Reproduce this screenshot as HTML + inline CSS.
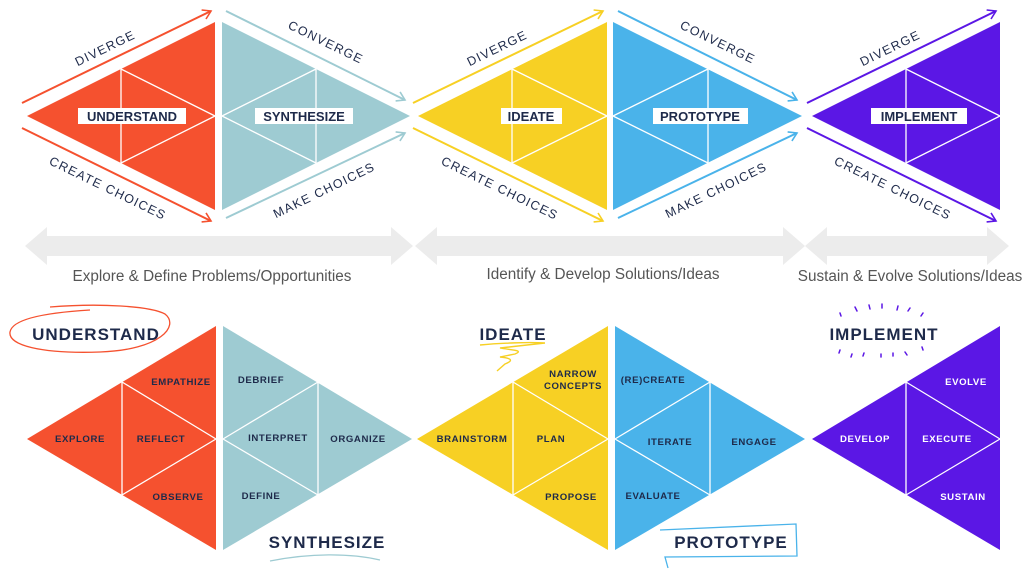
<!DOCTYPE html>
<html><head><meta charset="utf-8"><style>
html,body{margin:0;padding:0;background:#fff;}
svg{display:block;}
.t{font-family:"Liberation Sans",sans-serif;fill:#1e2a4a;}
.a{font-size:12.5px;letter-spacing:1.3px;}
.b{font-size:13px;font-weight:bold;}
.s{font-size:9.6px;font-weight:bold;letter-spacing:0.6px;}
.h{font-size:17px;font-weight:bold;letter-spacing:1px;}
.g{font-family:"Liberation Sans",sans-serif;fill:#555;font-size:15.3px;}
</style></head><body>
<svg width="1030" height="570" viewBox="0 0 1030 570" xmlns="http://www.w3.org/2000/svg">
<defs>
<marker id="mr" markerWidth="12" markerHeight="12" refX="9" refY="6" orient="auto" markerUnits="userSpaceOnUse"><path d="M1,1 L9,6 L1,11" fill="none" stroke="#f5512f" stroke-width="1.6"/></marker>
<marker id="mt" markerWidth="12" markerHeight="12" refX="9" refY="6" orient="auto" markerUnits="userSpaceOnUse"><path d="M1,1 L9,6 L1,11" fill="none" stroke="#9ecbd2" stroke-width="1.6"/></marker>
<marker id="my" markerWidth="12" markerHeight="12" refX="9" refY="6" orient="auto" markerUnits="userSpaceOnUse"><path d="M1,1 L9,6 L1,11" fill="none" stroke="#f7d024" stroke-width="1.6"/></marker>
<marker id="mb" markerWidth="12" markerHeight="12" refX="9" refY="6" orient="auto" markerUnits="userSpaceOnUse"><path d="M1,1 L9,6 L1,11" fill="none" stroke="#4ab3ea" stroke-width="1.6"/></marker>
<marker id="mp" markerWidth="12" markerHeight="12" refX="9" refY="6" orient="auto" markerUnits="userSpaceOnUse"><path d="M1,1 L9,6 L1,11" fill="none" stroke="#5b17e5" stroke-width="1.6"/></marker>
</defs>

<g stroke="#fff" stroke-width="1.3">
<polygon points="27,116 215,22 215,210" fill="#f5512f" stroke="none"/>
<path d="M121,69 V163 M121,69 L215,116 M121,163 L215,116" fill="none"/>
<polygon points="222,22 222,210 410,116" fill="#9ecbd2" stroke="none"/>
<path d="M316,69 V163 M222,116 L316,69 M222,116 L316,163" fill="none"/>
<polygon points="418,116 607,22 607,210" fill="#f7d024" stroke="none"/>
<path d="M512,69 V163 M512,69 L607,116 M512,163 L607,116" fill="none"/>
<polygon points="613,22 613,210 802,116" fill="#4ab3ea" stroke="none"/>
<path d="M708,69 V163 M613,116 L708,69 M613,116 L708,163" fill="none"/>
<polygon points="812,116 1000,22 1000,210" fill="#5b17e5" stroke="none"/>
<path d="M906,69 V163 M906,69 L1000,116 M906,163 L1000,116" fill="none"/>
</g>

<g fill="none" stroke-width="2">
<line x1="22" y1="103" x2="211" y2="11" stroke="#f5512f" marker-end="url(#mr)"/>
<line x1="22" y1="128" x2="211" y2="221" stroke="#f5512f" marker-end="url(#mr)"/>
<line x1="226" y1="11" x2="405" y2="100" stroke="#9ecbd2" marker-end="url(#mt)"/>
<line x1="226" y1="218" x2="405" y2="133" stroke="#9ecbd2" marker-end="url(#mt)"/>
<line x1="413" y1="103" x2="603" y2="11" stroke="#f7d024" marker-end="url(#my)"/>
<line x1="413" y1="128" x2="603" y2="221" stroke="#f7d024" marker-end="url(#my)"/>
<line x1="618" y1="11" x2="797" y2="100" stroke="#4ab3ea" marker-end="url(#mb)"/>
<line x1="618" y1="218" x2="797" y2="133" stroke="#4ab3ea" marker-end="url(#mb)"/>
<line x1="807" y1="103" x2="996" y2="11" stroke="#5b17e5" marker-end="url(#mp)"/>
<line x1="807" y1="128" x2="996" y2="221" stroke="#5b17e5" marker-end="url(#mp)"/>
</g>
<g class="t a" text-anchor="middle">
<text transform="translate(107,52) rotate(-26)">DIVERGE</text>
<text transform="translate(106,192) rotate(26)">CREATE CHOICES</text>
<text transform="translate(324,46) rotate(26)">CONVERGE</text>
<text transform="translate(326,194) rotate(-26)">MAKE CHOICES</text>
<text transform="translate(499,52) rotate(-26)">DIVERGE</text>
<text transform="translate(498,192) rotate(26)">CREATE CHOICES</text>
<text transform="translate(716,46) rotate(26)">CONVERGE</text>
<text transform="translate(718,194) rotate(-26)">MAKE CHOICES</text>
<text transform="translate(892,52) rotate(-26)">DIVERGE</text>
<text transform="translate(891,192) rotate(26)">CREATE CHOICES</text>
</g>

<g fill="#fff">
<rect x="78" y="108" width="108" height="16"/>
<rect x="255" y="108" width="98" height="16"/>
<rect x="501" y="108" width="61" height="16"/>
<rect x="653" y="108" width="95" height="16"/>
<rect x="871" y="108" width="96" height="16"/>
</g>
<g class="t b" text-anchor="middle">
<text x="132" y="121">UNDERSTAND</text>
<text x="304" y="121">SYNTHESIZE</text>
<text x="531" y="121">IDEATE</text>
<text x="700" y="121">PROTOTYPE</text>
<text x="919" y="121">IMPLEMENT</text>
</g>

<g fill="#ececec">
<polygon points="25,246 47,227 47,236 391,236 391,227 413,246 391,265 391,256 47,256 47,265"/>
<polygon points="415,246 437,227 437,236 783,236 783,227 805,246 783,265 783,256 437,256 437,265"/>
<polygon points="805,246 827,227 827,236 987,236 987,227 1009,246 987,265 987,256 827,256 827,265"/>
</g>
<g class="g" text-anchor="middle">
<text x="212" y="281">Explore &amp; Define Problems/Opportunities</text>
<text x="603" y="279">Identify &amp; Develop Solutions/Ideas</text>
<text x="910" y="281">Sustain &amp; Evolve Solutions/Ideas</text>
</g>

<g stroke="#fff" stroke-width="1.3">
<polygon points="27,439 216,326 216,550" fill="#f5512f" stroke="none"/>
<path d="M122,382 V495 M122,382 L216,439 M122,495 L216,439" fill="none"/>
<polygon points="223,326 223,550 412,439" fill="#9ecbd2" stroke="none"/>
<path d="M318,382 V495 M223,439 L318,382 M223,439 L318,495" fill="none"/>
<polygon points="417,439 608,326 608,550" fill="#f7d024" stroke="none"/>
<path d="M513,382 V495 M513,382 L608,439 M513,495 L608,439" fill="none"/>
<polygon points="615,326 615,550 805,439" fill="#4ab3ea" stroke="none"/>
<path d="M710,382 V495 M615,439 L710,382 M615,439 L710,495" fill="none"/>
<polygon points="812,439 1000,326 1000,550" fill="#5b17e5" stroke="none"/>
<path d="M906,382 V495 M906,382 L1000,439 M906,495 L1000,439" fill="none"/>
</g>
<g class="t s" text-anchor="middle">
<text x="181" y="385">EMPATHIZE</text>
<text x="80" y="442">EXPLORE</text>
<text x="161" y="442">REFLECT</text>
<text x="178" y="500">OBSERVE</text>
<text x="261" y="383">DEBRIEF</text>
<text x="278" y="441">INTERPRET</text>
<text x="358" y="442">ORGANIZE</text>
<text x="261" y="499">DEFINE</text>
<text x="573" y="377">NARROW</text>
<text x="573" y="389">CONCEPTS</text>
<text x="472" y="442">BRAINSTORM</text>
<text x="551" y="442">PLAN</text>
<text x="571" y="500">PROPOSE</text>
<text x="653" y="383">(RE)CREATE</text>
<text x="670" y="445">ITERATE</text>
<text x="754" y="445">ENGAGE</text>
<text x="653" y="499">EVALUATE</text>
</g>
<g class="s" font-family="Liberation Sans,sans-serif" fill="#fff" text-anchor="middle">
<text x="966" y="385">EVOLVE</text>
<text x="865" y="442">DEVELOP</text>
<text x="947" y="442">EXECUTE</text>
<text x="963" y="500">SUSTAIN</text>
</g>

<g class="t h" text-anchor="middle">
<text x="96" y="340">UNDERSTAND</text>
<text x="327" y="548">SYNTHESIZE</text>
<text x="513" y="340">IDEATE</text>
<text x="731" y="548">PROTOTYPE</text>
<text x="884" y="340">IMPLEMENT</text>
</g>
<path d="M50,307 C100,303 150,306 165,314 C180,326 160,350 100,352 C40,354 8,345 10,332 C12,320 40,313 90,310" fill="none" stroke="#f5512f" stroke-width="1.3"/>
<path d="M270,561 C310,553 350,553 380,560" fill="none" stroke="#9ecbd2" stroke-width="1.3"/>
<path d="M480,345 C500,343 530,342 545,343 M545,343 L500,348 C510,350 525,350 515,354 L500,357 C510,358 515,360 505,364 L497,371" fill="none" stroke="#f7d024" stroke-width="1.4"/>
<path d="M660,530 L796,524 L797,556 L665,557 L668,568" fill="none" stroke="#4ab3ea" stroke-width="1.3"/>
<g stroke="#5b17e5" stroke-width="1.5" stroke-linecap="round">
<path d="M840,313 l1,3 M855,307 l2,4 M869,305 l1,4 M882,304 v4 M898,306 l-1,4 M910,308 l-2,3 M923,313 l-2,3"/>
<path d="M840,350 l-1,3 M852,354 l-1,3 M864,353 l-1,3 M881,354 v3 M893,353 v3 M905,352 l2,3 M922,347 l1,3"/>
</g>
</svg>
</body></html>
